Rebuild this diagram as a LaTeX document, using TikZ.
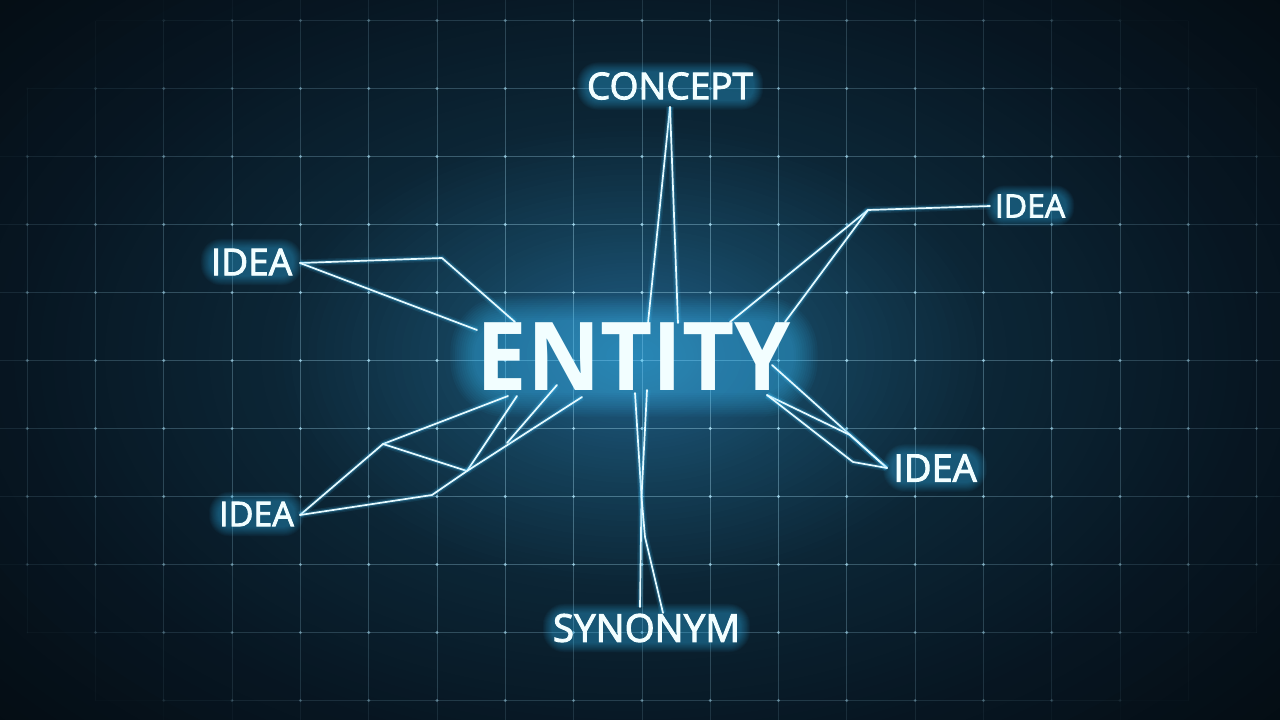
\documentclass[tikz,border=0pt]{standalone}
\usepackage{fontspec}
\setmainfont{Open Sans}
\newfontfamily\lblfont{Open Sans}[FakeBold=2.5]
\newfontfamily\entfont{Open Sans}[FakeStretch=0.95]
\usetikzlibrary{calc}
\definecolor{bgA}{HTML}{22668C}
\definecolor{bgAB}{HTML}{1B5274}
\definecolor{bgB}{HTML}{144059}
\definecolor{bgC}{HTML}{0C2636}
\definecolor{bgD}{HTML}{071622}
\definecolor{bgE}{HTML}{03080C}
\definecolor{gridc}{HTML}{A8DDF2}
\definecolor{glowc}{HTML}{3FC4FF}
\definecolor{linec}{HTML}{E6FAFF}
\definecolor{txtc}{HTML}{F2FEFF}
\pgfdeclarelayer{bg}
\pgfdeclarelayer{glow}
\pgfdeclarelayer{lines}
\pgfsetlayers{bg,glow,lines,main}
\newcommand\halo[4]{% #1 node, #2 spread, #3 opacity per layer, #4 box height
  \foreach \g in {1,...,12}{%
    \pgfmathsetmacro\hs{\g*#2/12}%
    \pgfmathsetmacro\rc{0.46*(#4+2*\hs)}%
    \fill[glowc, fill opacity=#3, rounded corners=\rc pt]
      ($(#1.south west)+(-\hs,\hs)$) rectangle ($(#1.north east)+(\hs,-\hs)$);}}
\begin{document}
\begin{tikzpicture}[x=1pt,y=-1pt,
  lbl/.style={inner sep=0pt, anchor=center, text=txtc},
  conn/.style={draw=linec, line width=1.7pt, line join=round, line cap=round,
    preaction={draw=glowc, line width=7pt, draw opacity=0.10},
    preaction={draw=glowc, line width=4pt, draw opacity=0.22}}]
\useasboundingbox (0,0) rectangle (1280,720);
\begin{pgfonlayer}{bg}
\begin{scope}
\clip (0,0) rectangle (1280,720);
\fill[bgE] (0,0) rectangle (1280,720);
\foreach \ta/\tb/\ca/\cb in {1/0.62/bgE/bgD, 0.62/0.36/bgD/bgC, 0.36/0.19/bgC/bgB, 0.19/0.08/bgB/bgAB, 0.08/0.0/bgAB/bgA}{%
  \foreach \k in {0,...,19}{%
    \pgfmathsetmacro\tv{\ta-(\ta-\tb)*\k/20}%
    \pgfmathsetmacro\pq{100*\k/20}%
    \fill[\cb!\pq!\ca] (634,356) ellipse [x radius={1000*\tv}, y radius={640*\tv}];}}
% grid: segments between intersections, opacity fading from centre
\foreach \i in {-1,...,19}{%
  \foreach \j in {-1,...,11}{%
    \pgfmathsetmacro\gx{27.2+68.3*\i}%
    \pgfmathsetmacro\gy{20.5+68*\j}%
    \pgfmathsetmacro\fa{max(0,1-((\gx-640)/760)^2-((\gy-360)/470)^2)}%
    \pgfmathsetmacro\fr{max(0,1-((\gx+68.3-640)/760)^2-((\gy-360)/470)^2)}%
    \pgfmathsetmacro\fd{max(0,1-((\gx-640)/760)^2-((\gy+68-360)/470)^2)}%
    \pgfmathsetmacro\oh{0.2*(\fa+\fr)}%
    \pgfmathsetmacro\ov{0.2*(\fa+\fd)}%
    \pgfmathsetmacro\od{min(1,\fa*0.95)}%
    \draw[gridc, line width=0.7pt, draw opacity=\ov] (\gx,\gy) -- (\gx,\gy+68);
    \draw[gridc, line width=0.7pt, draw opacity=\oh] (\gx,\gy) -- (\gx+68.3,\gy);
    \fill[gridc, fill opacity=\od] (\gx,\gy) circle[radius=1.6];}}
\end{scope}
\end{pgfonlayer}

% labels
\node[lbl, font=\lblfont\fontsize{37}{37}\selectfont] (concept) at (670,86) {CONCEPT};
\node[lbl, font=\lblfont\fontsize{32}{32}\selectfont] (ideaTR) at (1030,206) {IDEA};
\node[lbl, font=\lblfont\fontsize{37}{37}\selectfont] (ideaTL) at (251.5,262) {IDEA};
\node[lbl, font=\lblfont\fontsize{38}{38}\selectfont] (ideaR) at (935,468) {IDEA};
\node[lbl, font=\lblfont\fontsize{34}{34}\selectfont] (ideaBL) at (256.5,514) {IDEA};
\node[lbl, font=\lblfont\fontsize{38.5}{38.5}\selectfont] (synonym) at (646.5,628) {SYNONYM};
\node[lbl, font=\entfont\bfseries\fontsize{95}{95}\selectfont] (entity) at (634,356.5) {ENTITY};

\begin{pgfonlayer}{glow}
\halo{concept}{10}{0.035}{26}
\halo{ideaTR}{9}{0.035}{23}
\halo{ideaTL}{10}{0.035}{26}
\halo{ideaR}{10}{0.035}{27}
\halo{ideaBL}{10}{0.035}{25}
\halo{synonym}{10}{0.035}{27}
\halo{entity}{26}{0.045}{67}
\end{pgfonlayer}

% junction coordinates
\coordinate (tl0) at (300,263); \coordinate (tl1) at (442,258);
\coordinate (tlE1) at (515,322); \coordinate (tlE2) at (477,330);
\coordinate (co0) at (670,107); \coordinate (coE1) at (648,323); \coordinate (coE2) at (678,323);
\coordinate (tr0) at (990,206); \coordinate (tr1) at (868,210);
\coordinate (trE1) at (730,322); \coordinate (trE2) at (785,322);
\coordinate (r0) at (887,468); \coordinate (r1) at (850,435); \coordinate (r2) at (853,462);
\coordinate (rE1) at (772,365); \coordinate (rE2) at (767,395);
\coordinate (bl0) at (300,515); \coordinate (bl1) at (383,444); \coordinate (blE1) at (508,396);
\coordinate (bl2) at (467,471); \coordinate (bl3) at (432,495);
\coordinate (blE2) at (517,396); \coordinate (blE3) at (582,397);
\coordinate (bl4) at (507,443); \coordinate (blE4) at (557,385);
\coordinate (syE1) at (635,393); \coordinate (syE2) at (647,390);
\coordinate (sx) at (641.5,497); \coordinate (s3) at (645,537);
\coordinate (sA) at (640,607); \coordinate (sB) at (663,613);

\begin{pgfonlayer}{lines}
\draw[conn] (tl0) -- (tl1) -- (tlE1);
\draw[conn] (tl0) -- (tlE2);
\draw[conn] (co0) -- (coE1);
\draw[conn] (co0) -- (coE2);
\draw[conn] (tr0) -- (tr1) -- (trE1);
\draw[conn] (tr1) -- (trE2);
\draw[conn] (r0) -- (rE1);
\draw[conn] (r0) -- (r1) -- (rE2);
\draw[conn] (r0) -- (r2) -- (rE2);
\draw[conn] (bl0) -- (bl1) -- (blE1);
\draw[conn] (bl1) -- (bl2);
\draw[conn] (bl0) -- (bl3) -- (bl2);
\draw[conn] (bl2) -- (blE2);
\draw[conn] (bl2) -- (blE3);
\draw[conn] (bl4) -- (blE4);
\draw[conn] (syE1) -- (sx) -- (sA);
\draw[conn] (syE2) -- (sx) -- (s3) -- (sB);
\end{pgfonlayer}
\end{tikzpicture}
\end{document}
